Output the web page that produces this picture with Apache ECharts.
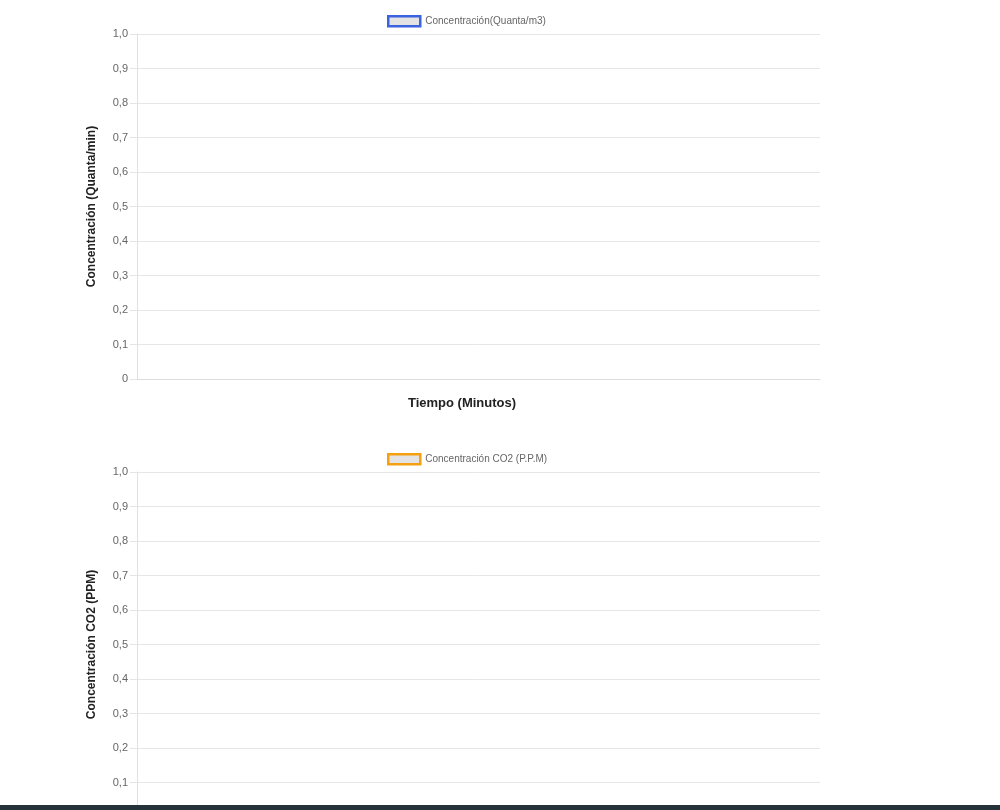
<!DOCTYPE html>
<html>
<head>
<meta charset="utf-8">
<script src="https://cdn.jsdelivr.net/npm/echarts@6/dist/echarts.min.js"></script>
<style>
html,body{margin:0;padding:0;background:#fff;overflow:hidden;width:1000px;height:810px;}
#c{width:1000px;height:810px;}
#bar{position:absolute;left:0;top:805px;width:1000px;height:5px;background:#26323a;}
</style>
</head>
<body>
<div id="c"></div>
<div id="bar"></div>
<script>
// Data (the reference charts are empty)
const tiempoMinutos = [];
const concentracionQuanta = [];
const concentracionCO2 = [];
const serieQuanta = 'Concentración(Quanta/m3)';
const serieCO2 = 'Concentración CO2 (P.P.M)';
const yMin = 0, yMax = 1, yStep = 0.1;

const fmt = v => v === 0 ? '0' : v.toFixed(1).replace('.', ',');
const font = '"Liberation Sans", Arial, sans-serif';
const gridColor = '#e6e6e6';

function yAxis(idx, name) {
  return {
    type: 'value', gridIndex: idx, min: yMin, max: yMax, interval: yStep,
    name: name, nameLocation: 'middle', nameGap: 39,
    nameTextStyle: {fontFamily: font, fontSize: 12, fontWeight: 'bold', color: '#222'},
    axisLine: {show: true, lineStyle: {color: '#e0e0e0'}},
    axisTick: {show: true, length: 7, lineStyle: {color: gridColor}},
    axisLabel: {margin: 9, fontFamily: font, fontSize: 11, color: '#666', formatter: fmt},
    splitLine: {show: true, lineStyle: {color: gridColor}}
  };
}
function xAxis(idx) {
  return {
    type: 'category', gridIndex: idx, data: tiempoMinutos,
    name: 'Tiempo (Minutos)', nameLocation: 'middle', nameGap: 18,
    nameTextStyle: {fontFamily: font, fontSize: 13, fontWeight: 'bold', color: '#222', padding: [0, 33, 0, 0]},
    axisLine: {show: true, lineStyle: {color: '#dcdcdc'}},
    axisTick: {show: false}, axisLabel: {show: false}, splitLine: {show: false}
  };
}
const chart = echarts.init(document.getElementById('c'));
chart.setOption({
  animation: false,
  grid: [
    {left: 137, width: 683, top: 34, height: 345, outerBoundsMode: 'none', containLabel: false},
    {left: 137, width: 683, top: 472, height: 345, outerBoundsMode: 'none', containLabel: false}
  ],
  legend: [
    {left: 382, top: 10, icon: 'rect', itemWidth: 32, itemHeight: 10,
     textStyle: {fontFamily: font, fontSize: 10, color: '#666'},
     data: [{name: serieQuanta, itemStyle: {color: '#e3e3e3', borderColor: '#3b63e0', borderWidth: 2.5}}]},
    {left: 382, top: 448, icon: 'rect', itemWidth: 32, itemHeight: 10,
     textStyle: {fontFamily: font, fontSize: 10, color: '#666'},
     data: [{name: serieCO2, itemStyle: {color: '#e3e3e3', borderColor: '#f5a010', borderWidth: 2.5}}]}
  ],
  xAxis: [xAxis(0), xAxis(1)],
  yAxis: [yAxis(0, 'Concentración (Quanta/min)'), yAxis(1, 'Concentración CO2 (PPM)')],
  series: [
    {name: serieQuanta, type: 'line', xAxisIndex: 0, yAxisIndex: 0, data: concentracionQuanta,
     itemStyle: {color: '#e3e3e3', borderColor: '#3b63e0'}},
    {name: serieCO2, type: 'line', xAxisIndex: 1, yAxisIndex: 1, data: concentracionCO2,
     itemStyle: {color: '#e3e3e3', borderColor: '#f5a010'}}
  ]
});
</script>
</body>
</html>
